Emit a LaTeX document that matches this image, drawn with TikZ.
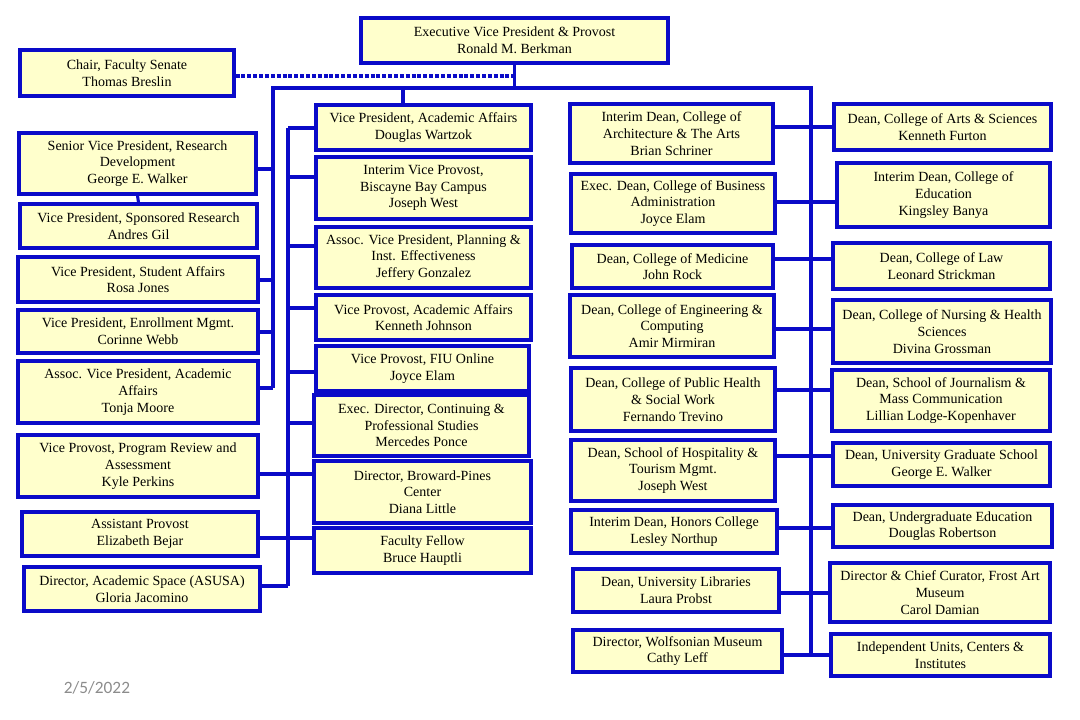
\documentclass[tikz,border=0pt]{standalone}
\usepackage{fontspec}
\setmainfont{Liberation Serif}
\newfontfamily\datefont{Carlito}
\definecolor{obl}{RGB}{10,10,200}
\definecolor{oyl}{RGB}{255,255,204}
\definecolor{ogr}{RGB}{140,140,140}
\tikzset{
  obox/.style={draw=obl, fill=oyl, line width=2.4pt, align=center, inner sep=1pt,
    font=\fontsize{10.5}{12.5}\selectfont},
  oline/.style={draw=obl, line width=2.3pt},
  odot/.style={draw=obl, line width=2.8pt, dash pattern=on 3pt off 1.4pt},
}
\newcommand\bx[6]{\node[obox, minimum width={(#4-#2)*0.75pt}, minimum height={(#5-#3)*0.75pt}] (#1) at ({(#2+#4)/2},{(#3+#5)/2}) {#6};}
\begin{document}
\begin{tikzpicture}[x=0.75pt,y=-0.75pt]
\useasboundingbox (0,0) rectangle (1080,720);
% coordinates of the trunk lines
\coordinate (lvT) at (273,88);
\coordinate (lvB) at (273,388);
\coordinate (tT) at (811,88);
\coordinate (tB) at (811,655);
\coordinate (mvT) at (288,128);
\coordinate (mvB) at (288,586);
\coordinate (b1) at (403,88);
\coordinate (d1) at (513,76);
% connectors (drawn first, boxes on top)
\draw[oline] (lvB) -- (lvT) -- (tT) -- (tB);
\draw[oline] (mvT) -- (mvB);
% boxes
\bx{evp}{361}{18}{668}{63}{Executive Vice President \& Provost\\Ronald M. Berkman}
\bx{chair}{20}{50}{234}{96}{Chair, Faculty Senate\\Thomas Breslin}
% left column
\bx{sv}{19}{133}{256}{194}{Senior Vice President, Research\\Development\\George E. Walker}
\bx{sp}{20}{204}{257}{248}{Vice President, Sponsored Research\\Andres Gil}
\bx{sa}{18}{257}{258}{302}{Vice President, Student Affairs\\Rosa Jones}
\bx{em}{18}{310}{258}{353}{Vice President, Enrollment Mgmt.\\Corinne Webb}
\bx{aa}{18}{361}{258}{423}{Assoc. Vice President, Academic\\Affairs\\Tonja Moore}
\bx{pr}{18}{435}{258}{497}{Vice Provost, Program Review and\\Assessment\\Kyle Perkins}
\bx{ap}{22}{512}{258}{556}{Assistant Provost\\Elizabeth Bejar}
\bx{as}{24}{567}{260}{611}{Director, Academic Space (ASUSA)\\Gloria Jacomino}
% middle column
\bx{m1}{316}{105}{531}{150}{Vice President, Academic Affairs\\Douglas Wartzok}
\bx{m2}{316}{157}{531}{219}{Interim Vice Provost,\\Biscayne Bay Campus\\Joseph West}
\bx{m3}{316}{227}{531}{288}{Assoc. Vice President, Planning \&\\Inst. Effectiveness\\Jeffery Gonzalez}
\bx{m4}{316}{295}{531}{340}{Vice Provost, Academic Affairs\\Kenneth Johnson}
\bx{m5}{316}{346}{529}{391}{Vice Provost, FIU Online\\Joyce Elam}
\bx{m6}{314}{395}{529}{456}{Exec. Director, Continuing \&\\Professional Studies\\Mercedes Ponce}
\bx{m7}{314}{461}{531}{523}{Director, Broward-Pines\\Center\\Diana Little}
\bx{m8}{314}{528}{531}{573}{Faculty Fellow\\Bruce Hauptli}
% dean column
\bx{c1}{570}{104}{773}{163}{Interim Dean, College of\\Architecture \& The Arts\\Brian Schriner}
\bx{c2}{571}{174}{775}{233}{Exec. Dean, College of Business\\Administration\\Joyce Elam}
\bx{c3}{572}{245}{773}{288}{Dean, College of Medicine\\John Rock}
\bx{c4}{570}{295}{774}{357}{Dean, College of Engineering \&\\Computing\\Amir Mirmiran}
\bx{c5}{571}{368}{775}{431}{Dean, College of Public Health\\\& Social Work\\Fernando Trevino}
\bx{c6}{571}{440}{775}{501}{Dean, School of Hospitality \&\\Tourism Mgmt.\\Joseph West}
\bx{c7}{571}{510}{777}{553}{Interim Dean, Honors College\\Lesley Northup}
\bx{c8}{573}{569}{779}{612}{Dean, University Libraries\\Laura Probst}
\bx{c9}{573}{630}{782}{672}{Director, Wolfsonian Museum\\Cathy Leff}
% right column
\bx{r1}{834}{104}{1051}{150}{Dean, College of Arts \& Sciences\\Kenneth Furton}
\bx{r2}{837}{163}{1050}{227}{Interim Dean, College of\\Education\\Kingsley Banya}
\bx{r3}{833}{243}{1050}{289}{Dean, College of Law\\Leonard Strickman}
\bx{r4}{833}{300}{1051}{363}{Dean, College of Nursing \& Health\\Sciences\\Divina Grossman}
\bx{r5}{832}{370}{1050}{431}{Dean, School of Journalism \&\\Mass Communication\\Lillian Lodge-Kopenhaver}
\bx{r6}{833}{443}{1050}{486}{Dean, University Graduate School\\George E. Walker}
\bx{r7}{833}{505}{1052}{547}{Dean, Undergraduate Education\\Douglas Robertson}
\bx{r8}{830}{563}{1050}{622}{Director \& Chief Curator, Frost Art\\Museum\\Carol Damian}
\bx{r9}{831}{634}{1050}{676}{Independent Units, Centers \&\\Institutes}
% top connectors
\draw[oline] (evp.south) -- (evp.south |- tT);
\draw[odot] (chair.east |- d1) -- (d1);
\draw[oline] (b1) -- (b1 |- m1.north);
\draw[oline] (sv.south) -- (sp.north);
% left trunk branches
\foreach \n/\yy in {sv/169, sa/280, em/332, aa/388}{
  \coordinate (j) at (273,\yy);
  \draw[oline] (\n.east |- j) -- (j);
}
% middle trunk branches
\foreach \n/\yy in {m1/128, m2/177, m3/246, m4/308, m5/372, m6/423}{
  \coordinate (j) at (288,\yy);
  \draw[oline] (j) -- (\n.west |- j);
}
\coordinate (jpr) at (288,474);
\draw[oline] (pr.east |- jpr) -- (m7.west |- jpr);
\coordinate (jap) at (288,538);
\draw[oline] (ap.east |- jap) -- (m8.west |- jap);
\coordinate (jas) at (288,586);
\draw[oline] (as.east |- jas) -- (jas);
% dean pairs across main trunk
\foreach \a/\b/\yy in {c1/r1/127, c2/r2/202, c3/r3/259, c4/r4/329, c5/r5/390, c6/r6/456, c7/r7/528, c8/r8/593, c9/r9/655}{
  \coordinate (j) at (811,\yy);
  \draw[oline] (\a.east |- j) -- (\b.west |- j);
}
% date
\node[font=\datefont\fontsize{13}{15}\selectfont, text=ogr, inner sep=0pt] (date) at (97,688) {2/5/2022};
\end{tikzpicture}
\end{document}
